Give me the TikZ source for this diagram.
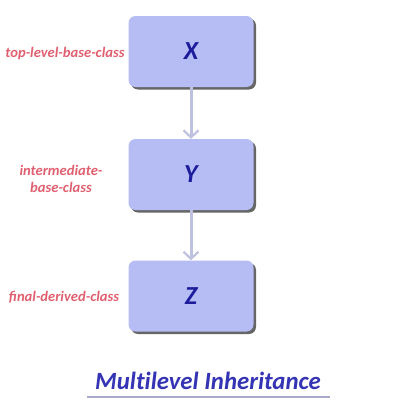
\documentclass[tikz,border=0pt]{standalone}
\usepackage{fontspec}
\setmainfont{Carlito}
\newfontfamily\titlefont[Ligatures=NoCommon]{Carlito}
\usetikzlibrary{arrows.meta,shadows}
\definecolor{boxfill}{HTML}{B6BCF4}
\definecolor{letter}{HTML}{1C1C9C}
\definecolor{lab}{HTML}{E06070}
\definecolor{arr}{HTML}{BFC2DE}
\definecolor{ttl}{HTML}{3434B4}
\definecolor{uline}{HTML}{A8AAC8}
\tikzset{
  classbox/.style={draw=none, fill=boxfill, rounded corners=7pt, minimum width=125pt, minimum height=71pt,
    drop shadow={shadow xshift=2.5pt, shadow yshift=-2.5pt, fill=black!75, opacity=0.8},
    font=\bfseries\itshape\fontsize{26}{30}\selectfont, text=letter},
  lbl/.style={font=\bfseries\itshape\fontsize{14.6}{16.5}\selectfont, text=lab, align=center},
  conn/.style={draw=arr, line width=3pt, -{Straight Barb[length=7pt,width=15pt,line width=2.2pt]}},
  titlestyle/.style={font=\titlefont\bfseries\itshape\fontsize{24.8}{28}\selectfont, text=ttl}
}
\begin{document}
\begin{tikzpicture}[x=1pt,y=-1pt]
\useasboundingbox (0,0) rectangle (400,400);
\node[classbox] (X) at (191,51.5) {X};
\node[classbox] (Y) at (191,174.5) {Y};
\node[classbox] (Z) at (191,296) {Z};
\draw[conn] (X.south) -- (Y.north);
\draw[conn] (Y.south) -- (Z.north);
\node[lbl] (lx) at (65,54) {top-level-base-class};
\node[lbl] (ly) at (61,179) {intermediate-\\base-class};
\node[lbl] (lz) at (64,297) {final-derived-class};
\node[titlestyle] (title) at (208,381) {Multilevel Inheritance};
\coordinate (u1) at (87,397);
\coordinate (u2) at (330,397);
\draw[uline, line width=2.5pt] (u1) -- (u2);
\end{tikzpicture}
\end{document}
